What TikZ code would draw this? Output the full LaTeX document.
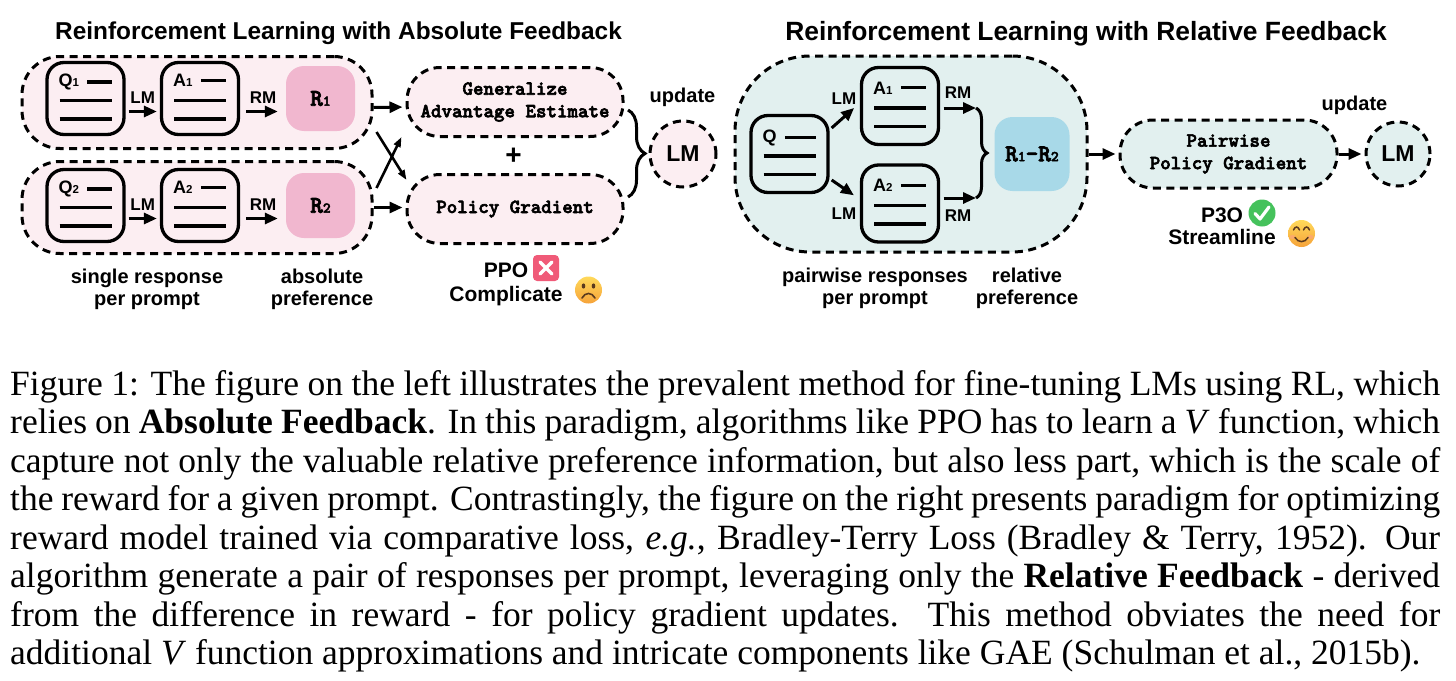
\documentclass[tikz,border=0pt]{standalone}
\usepackage{fontspec}
\setmainfont{Liberation Serif}
\setsansfont{Liberation Sans}
\newfontfamily\courfont{lmmonolt10-bold.otf}[FakeBold=3]
\usetikzlibrary{arrows.meta,decorations.pathreplacing}

\definecolor{pinkbg}{HTML}{FCEEF2}
\definecolor{pinkrew}{HTML}{F1B7CF}
\definecolor{tealbg}{HTML}{E2F0EF}
\definecolor{bluerew}{HTML}{A8D9E8}
\definecolor{xred}{HTML}{F05A78}
\definecolor{okgreen}{HTML}{45C25C}
\definecolor{emoyel}{HTML}{FFD95A}
\definecolor{emoorg}{HTML}{F6A33A}
\definecolor{emoeye}{HTML}{5B3A1E}

\newcommand{\lowidx}[2][11.5]{{\fontsize{#1}{#1}\selectfont #2}}
% a response card: frame, label, one short and two long bars
\newcommand{\respbox}[4][]{%
  \node[doc,#1] (#2) at (#3) {};
  \node[qlbl] (#2l) at ([shift={(-27,-12)}]#2.center) {#4};
  \coordinate (#2r) at ([shift={(26,-18)}]#2.center);
  \draw[bar] ([xshift=8pt]#2l.east) -- (#2l.east -| #2r);
  \draw[bar] ([shift={(-26,2)}]#2.center) -- ([shift={(26,2)}]#2.center);
  \draw[bar] ([shift={(-26,20.5)}]#2.center) -- ([shift={(26,20.5)}]#2.center);
}

\begin{document}
\begin{tikzpicture}[x=1pt, y=-1pt,
    grp/.style={draw, line width=3pt, dash pattern=on 8pt off 5.5pt, rounded corners=38pt, inner sep=0pt},
    doc/.style={draw, line width=3.3pt, rounded corners=17pt, minimum width=77pt, minimum height=72pt, inner sep=0pt},
    qlbl/.style={anchor=base west, inner sep=0pt, font=\sffamily\bfseries\fontsize{18}{18}\selectfont},
    bar/.style={line width=3.3pt},
    rew/.style={rounded corners=18pt, minimum width=69pt, minimum height=65pt, inner sep=0pt, font=\courfont\fontsize{24}{24}\selectfont},
    pill/.style={grp, rounded corners=33pt, minimum width=216pt, minimum height=69pt, align=center, font=\courfont\fontsize{20}{22.5}\selectfont},
    lmc/.style={draw, circle, line width=3pt, dash pattern=on 8pt off 5.5pt, minimum size=66pt, inner sep=0pt, font=\sffamily\bfseries\fontsize{23}{23}\selectfont},
    arr/.style={line width=3pt, -{Triangle[length=13pt,width=11pt]}},
    xarr/.style={line width=2.6pt, -{Triangle[length=10pt,width=7pt]}},
    lbl/.style={inner sep=0pt, font=\sffamily\bfseries\fontsize{17}{17}\selectfont},
    ttl/.style={inner sep=0pt, font=\sffamily\bfseries\fontsize{#1}{#1}\selectfont},
    sub/.style={inner sep=0pt, align=center, font=\sffamily\bfseries\fontsize{20}{22}\selectfont},
    brc/.style={line width=3pt, decorate, decoration={brace, amplitude=#1}},
  ]
  \useasboundingbox (0,0) rectangle (1456,680);

  % titles
  \node[ttl=24.4, anchor=base] (tabs) at (338.5,39) {Reinforcement Learning with Absolute Feedback};
  \node[ttl=26.4, anchor=base] (trel) at (1086,40) {Reinforcement Learning with Relative Feedback};

  % ---- absolute feedback ----
  \node[grp, fill=pinkbg, minimum width=350pt, minimum height=92pt] (g1) at (197,102.5) {};
  \node[grp, fill=pinkbg, minimum width=350pt, minimum height=92pt] (g2) at (197,207.5) {};
  \respbox{q1}{85.5,98.5}{Q\lowidx{1}}
  \respbox{a1}{200,98.5}{A\lowidx{1}}
  \respbox{q2}{85.5,205.5}{Q\lowidx{2}}
  \respbox{a2}{200,205.5}{A\lowidx{2}}
  \node[rew, fill=pinkrew] (r1) at (320.5,98.5) {R\lowidx[15]{1}};
  \node[rew, fill=pinkrew] (r2) at (320.5,205.5) {R\lowidx[15]{2}};
  \draw[arr, shorten <=3pt, shorten >=3pt] ([yshift=-13pt]q1.east) -- node[lbl, above=7pt] {LM} ([yshift=-13pt]a1.west);
  \draw[arr, shorten <=6pt, shorten >=8pt] ([yshift=-13pt]a1.east) -- node[lbl, above=7pt] {RM} ([yshift=-13pt]r1.west);
  \draw[arr, shorten <=3pt, shorten >=3pt] ([yshift=-13pt]q2.east) -- node[lbl, above=7pt] {LM} ([yshift=-13pt]a2.west);
  \draw[arr, shorten <=6pt, shorten >=8pt] ([yshift=-13pt]a2.east) -- node[lbl, above=7pt] {RM} ([yshift=-13pt]r2.west);
  \node[sub] (sresp) at (147,289) {single response\\per prompt};
  \node[sub] (apref) at (322,289) {absolute\\preference};

  \node[pill, fill=pinkbg] (gae) at (515,102) {Generalize\\Advantage Estimate};
  \node[pill, fill=pinkbg] (pg) at (515,209) {Policy Gradient};
  \node[inner sep=0pt, font=\sffamily\bfseries\fontsize{28}{28}\selectfont] (plus) at (513.5,156) {+};
  \draw[arr, shorten >=3pt] ([yshift=-5pt]g1.east) -- ([yshift=-5pt]gae.west);
  \draw[arr, shorten >=3pt] (g2.east) -- (pg.west |- g2.east);
  \draw[xarr] ([shift={(3,29.5)}]g1.east) -- ([shift={(1,-29)}]pg.west);
  \draw[xarr] ([shift={(3,-19.5)}]g2.east) -- ([shift={(-4,35)}]gae.west);
  \draw[brc=17pt] (628,110) -- (628,197);
  \node[lmc, fill=pinkbg] (lml) at (683,154) {LM};
  \node[lbl, anchor=base, font=\sffamily\bfseries\fontsize{20}{20}\selectfont] (updl) at (682.5,102) {update};

  \node[sub, font=\sffamily\bfseries\fontsize{21}{23.7}\selectfont] (ppo) at (506,284.5) {PPO\\Complicate};
  \node[fill=xred, rounded corners=4pt, minimum size=26pt, inner sep=0pt] (xbox) at (546,268) {};
  \draw[white, line width=3.2pt, line cap=round] ([shift={(-6,-6)}]xbox.center) -- ([shift={(6,6)}]xbox.center);
  \draw[white, line width=3.2pt, line cap=round] ([shift={(-6,6)}]xbox.center) -- ([shift={(6,-6)}]xbox.center);
  % frowning face
  \shade[top color=emoyel, bottom color=emoorg] (588.5,290) circle (13.5pt);
  \fill[emoeye] (583.5,286) ellipse (1.8pt and 2.6pt);
  \fill[emoeye] (593.5,286) ellipse (1.8pt and 2.6pt);
  \draw[emoeye, line width=1.6pt, line cap=round] (582,298) .. controls (585,292) and (592,292) .. (595,298);

  % ---- relative feedback ----
  \node[grp, fill=tealbg, rounded corners=75pt, minimum width=352pt, minimum height=196pt] (pair) at (911,154) {};
  \respbox[minimum height=77pt]{q}{789.5,154}{Q}
  \respbox[minimum height=77pt]{pa1}{900,106}{A\lowidx{1}}
  \respbox[minimum height=77pt]{pa2}{900,203.5}{A\lowidx{2}}
  \node[rew, fill=bluerew, minimum width=75pt, minimum height=74pt] (rdiff) at (1032,154) {R\lowidx[15]{1}–R\lowidx[15]{2}};
  \coordinate (bt) at (976,108);
  \coordinate (bb) at (976,198);
  \draw[arr, shorten >=3pt] ([shift={(2,-26)}]q.east) -- node[lbl, above=11pt] {LM} ([xshift=-3.5pt]pa1.west);
  \draw[arr, shorten >=3pt] ([shift={(2,26)}]q.east) -- node[lbl, below=18pt] {LM} ([shift={(-3.5,-6.5)}]pa2.west);
  \draw[arr, shorten <=3.5pt] (pa1.east |- bt) -- node[lbl, above=8pt] {RM} (bt);
  \draw[arr, shorten <=3.5pt] (pa2.east |- bb) -- node[lbl, below=10pt] {RM} (bb);
  \draw[brc=11pt] (bt) -- (bb);
  \node[sub] (presp) at (875,288) {pairwise responses\\per prompt};
  \node[sub] (rpref) at (1027,288) {relative\\preference};

  \node[pill, fill=tealbg, minimum width=217pt, minimum height=68pt] (ppg) at (1228.5,154) {Pairwise\\Policy Gradient};
  \node[lmc, fill=tealbg, minimum size=64pt] (lmr) at (1398,154) {LM};
  \draw[arr, shorten >=3pt] (pair.east) -- (ppg.west);
  \draw[arr, shorten >=3pt] (ppg.east) -- (lmr.west);
  \node[lbl, anchor=base, font=\sffamily\bfseries\fontsize{20}{20}\selectfont] (updr) at (1354.5,110) {update};

  \node[sub, font=\sffamily\bfseries\fontsize{21}{22}\selectfont] (p3o) at (1222,226.5) {P3O\\Streamline};
  % check mark
  \fill[okgreen] (1262,213) circle (13.5pt);
  \draw[white, line width=3.2pt, line cap=round, line join=round] (1255,213.5) -- (1260,219) -- (1269,207);
  % smiling face
  \shade[top color=emoyel, bottom color=emoorg] (1301.5,233.5) circle (13.5pt);
  \fill[pink!80!red, opacity=.45] (1292.5,237) ellipse (3pt and 2pt);
  \fill[pink!80!red, opacity=.45] (1310.5,237) ellipse (3pt and 2pt);
  \draw[emoeye, line width=1.5pt, line cap=round] (1293.5,230) .. controls (1295,226) and (1298,226) .. (1299.5,230);
  \draw[emoeye, line width=1.5pt, line cap=round] (1303.5,230) .. controls (1305,226) and (1308,226) .. (1309.5,230);
  \draw[emoeye, line width=1.5pt, line cap=round] (1295,237.5) .. controls (1298,243) and (1305,243) .. (1308,237.5);

  % caption
  \node[anchor=north west, inner sep=0pt, text width=1430pt, align=justify, font=\fontsize{35.5}{38.5}\selectfont] (cap) at (10,370) {Figure 1: The figure on the left illustrates the prevalent method for fine-tuning LMs using RL, which\linebreak
    relies on \textbf{Absolute Feedback}. In this paradigm, algorithms like PPO has to learn a \textit{V} function, which\linebreak
    capture not only the valuable relative preference information, but also less part, which is the scale of\linebreak
    the reward for a given prompt. Contrastingly, the figure on the right presents paradigm for optimizing\linebreak
    reward model trained via comparative loss, \textit{e.g.}, Bradley-Terry Loss (Bradley \& Terry, 1952). Our\linebreak
    algorithm generate a pair of responses per prompt, leveraging only the \textbf{Relative Feedback} - derived\linebreak
    from the difference in reward - for policy gradient updates. This method obviates the need for\linebreak
    additional \textit{V} function approximations and intricate components like GAE (Schulman et al., 2015b).};
\end{tikzpicture}
\end{document}
